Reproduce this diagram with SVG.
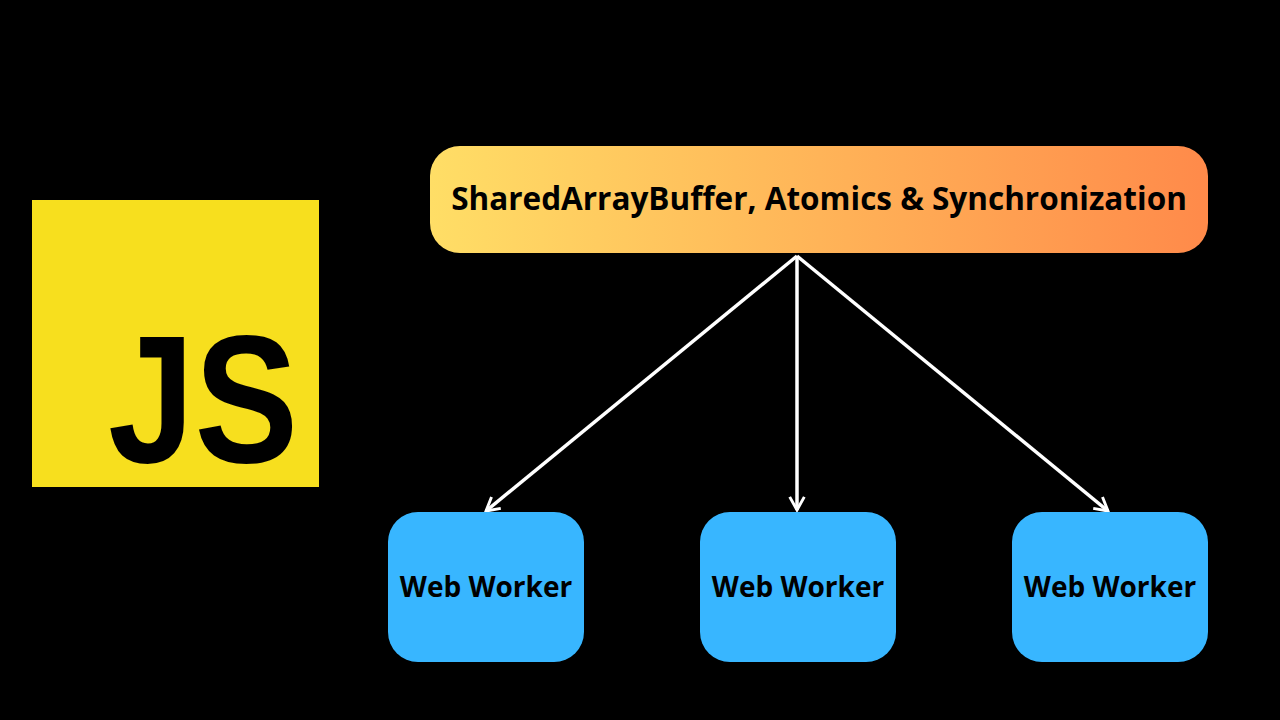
<svg xmlns="http://www.w3.org/2000/svg" width="1280" height="720" viewBox="0 0 1280 720">
<style>
.w{fill:#38b6ff}
.t{font-family:"Open Sans","Liberation Sans",sans-serif;font-weight:bold;fill:#000;text-anchor:middle}
.c{stroke:#fff;stroke-width:3.5;fill:none}
</style>
<defs>
<linearGradient id="g" x1="0" x2="1" y1="0" y2="0"><stop offset="0" stop-color="#ffde66"/><stop offset="1" stop-color="#ff8a4a"/></linearGradient>
<marker id="a" viewBox="0 0 12 12" refX="10" refY="6" markerWidth="5" markerHeight="5" orient="auto" markerUnits="strokeWidth"><path d="M1,1 L10,6 L1,11" fill="none" stroke="#fff" stroke-width="2"/></marker>
</defs>
<rect width="1280" height="720" fill="#000"/>
<g id="js"><rect x="32" y="200" width="287" height="287" fill="#f7df1e"/><text x="108" y="462" font-family="Liberation Sans,Arial,sans-serif" font-weight="bold" font-size="182" textLength="190" lengthAdjust="spacingAndGlyphs" fill="#000">JS</text></g>
<g id="top"><rect x="430" y="146" width="778" height="107" rx="30" fill="url(#g)"/><text class="t" x="819" y="210" font-size="31.5">SharedArrayBuffer, Atomics &amp; Synchronization</text></g>
<g id="connectors">
<path class="c" d="M797,256 L486,511" marker-end="url(#a)"/>
<path class="c" d="M797,256 L797,510" marker-end="url(#a)"/>
<path class="c" d="M797,256 L1108,511" marker-end="url(#a)"/>
</g>
<g id="w1"><rect class="w" x="388" y="512" width="196" height="150" rx="30"/><text class="t" x="486" y="597" font-size="28">Web Worker</text></g>
<g id="w2"><rect class="w" x="700" y="512" width="196" height="150" rx="30"/><text class="t" x="798" y="597" font-size="28">Web Worker</text></g>
<g id="w3"><rect class="w" x="1012" y="512" width="196" height="150" rx="30"/><text class="t" x="1110" y="597" font-size="28">Web Worker</text></g>
</svg>
